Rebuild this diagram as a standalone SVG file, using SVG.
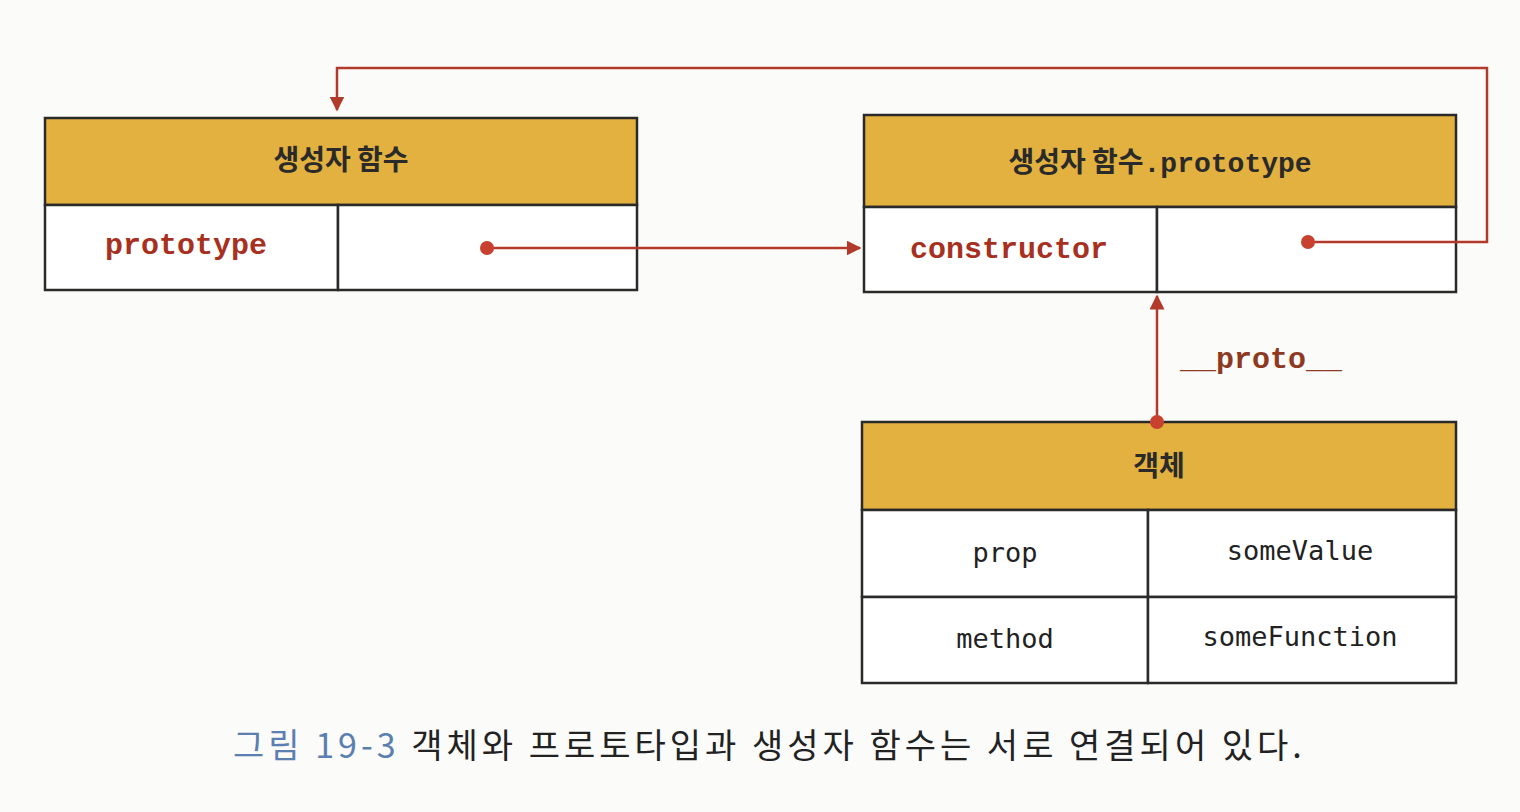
<svg xmlns="http://www.w3.org/2000/svg" width="1520" height="812" viewBox="0 0 1520 812">
<defs>
<style>
.hdr{fill:#E3B13F;stroke:#2a2a2a;stroke-width:2.5}
.cell{fill:#fff;stroke:#2a2a2a;stroke-width:2.5}
.ht{font-family:"Noto Sans CJK KR","Liberation Mono",monospace;font-size:28px;font-weight:bold;fill:#2a2a2a;text-anchor:middle}
.key{font-family:"Liberation Mono","DejaVu Sans Mono",monospace;font-size:30px;font-weight:bold;fill:#A8301F}
.val{font-family:"DejaVu Sans Mono","Liberation Mono",monospace;font-size:27px;fill:#222;text-anchor:middle}
.con{fill:none;stroke:#B23A2A;stroke-width:2.5}
.dot{fill:#C8402E}
</style>
<marker id="ah" viewBox="0 0 10 10" refX="9" refY="5" markerWidth="6" markerHeight="6" orient="auto"><path d="M0,0 L10,5 L0,10 z" fill="#B23A2A"/></marker>
</defs>
<rect width="1520" height="812" fill="#fbfbfa"/>
<g id="ctor">
<rect class="hdr" x="45" y="118" width="592" height="87"/>
<text class="ht" x="341" y="170">생성자 함수</text>
<rect class="cell" x="45" y="205" width="293" height="85"/>
<rect class="cell" x="338" y="205" width="299" height="85"/>
<text class="key" x="105" y="254">prototype</text>
</g>
<g id="proto">
<rect class="hdr" x="864" y="115" width="592" height="92"/>
<text class="ht" x="1160" y="172">생성자 함수<tspan font-family="Liberation Mono, monospace">.prototype</tspan></text>
<rect class="cell" x="864" y="207" width="293" height="85"/>
<rect class="cell" x="1157" y="207" width="299" height="85"/>
<text class="key" x="910" y="258">constructor</text>
</g>
<g id="obj">
<rect class="hdr" x="862" y="422" width="594" height="88"/>
<text class="ht" x="1159" y="476">객체</text>
<rect class="cell" x="862" y="510" width="286" height="87"/>
<rect class="cell" x="1148" y="510" width="308" height="87"/>
<rect class="cell" x="862" y="597" width="286" height="86"/>
<rect class="cell" x="1148" y="597" width="308" height="86"/>
<text class="val" x="1005" y="562">prop</text>
<text class="val" x="1300" y="560">someValue</text>
<text class="val" x="1005" y="648">method</text>
<text class="val" x="1300" y="646">someFunction</text>
</g>
<g id="connectors">
<path class="con" d="M487,248 H860" marker-end="url(#ah)"/>
<circle class="dot" cx="487" cy="248" r="7"/>
<path class="con" d="M1308,242 H1487 V68 H337 V110" marker-end="url(#ah)"/>
<circle class="dot" cx="1308" cy="242" r="7"/>
<path class="con" d="M1157,422 V296" marker-end="url(#ah)"/>
<circle class="dot" cx="1157" cy="422" r="7"/>
<text class="key" x="1180" y="368" style="fill:#8E3A22">__proto__</text>
</g>
<text x="233" y="758" font-family="Noto Sans CJK KR, sans-serif" font-size="34" letter-spacing="4" fill="#222"><tspan fill="#5B7FB0">그림 19-3</tspan> 객체와 프로토타입과 생성자 함수는 서로 연결되어 있다.</text>
</svg>
